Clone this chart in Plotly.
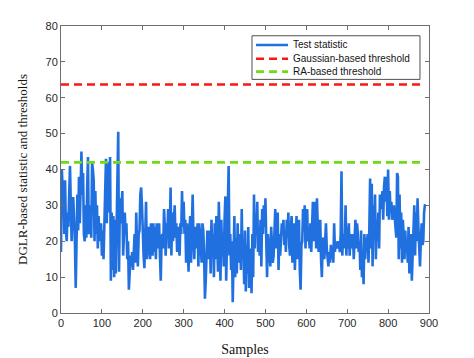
import numpy as np
import plotly.graph_objects as go

test_statistic = [
    17, 40, 35, 37, 22,  37, 23, 20, 28, 24,  33, 41, 30, 20, 32,  32, 26, 20, 7, 30,
    33, 23, 38, 25, 40,  45, 33, 39, 22, 20,  30, 21, 35, 43.5, 22,  26, 30, 21, 42, 40,
    37, 20, 34, 22, 30,  18, 27, 20, 22, 25,  16, 23, 15, 25, 42,  43, 25, 42, 28, 36,
    43.5, 9, 28, 12, 27,  10, 26, 11, 30, 36,  50.5, 11.5, 32, 25, 32,  34, 16, 26, 28, 22,
    25, 15, 20, 6.5, 14,  16, 13, 17, 12, 16,  22, 14, 28, 19, 13,  22, 23, 33, 35, 30,
    20, 16, 12.5, 25, 31,  15, 21, 24, 18, 15,  25, 21, 16, 25, 17,  24, 15, 25, 18, 22,
    25, 16, 9, 21, 22,  18, 29, 24, 16, 25,  21, 29, 18, 22, 35,  16, 28, 20, 24, 30,
    21, 25, 17, 24, 19,  16, 25, 22, 34, 24,  31, 22, 26, 14, 25,  18, 11.5, 23, 27, 14,
    25, 33, 21, 15, 24,  22, 18, 25, 13, 25,  22, 18, 14, 25, 23,  16, 4, 9, 20, 23,
    19, 15, 23, 11, 26,  16, 22, 10, 25, 15,  27, 19, 11.5, 31, 18,  9, 26, 18, 22, 13,
    26, 32.5, 9, 18, 30,  41, 16, 22, 12, 20,  3, 15, 27, 10, 21,  11, 25, 14, 19, 22,
    12, 29, 15, 20, 8,  23, 6, 19, 11, 24,  7, 17, 18, 5.5, 22,  10, 33, 18, 27, 22,
    31, 17, 24, 16, 26,  13, 29, 22, 30, 24,  32, 20, 10, 22, 18,  15, 13, 24, 19, 14,
    16, 21, 29, 18, 24,  28, 12, 22, 16, 20,  25, 22, 26, 19, 22,  17, 26, 21, 28, 19,
    16, 23, 27, 14, 22,  25, 12, 20, 27, 15,  22, 26, 12, 6.5, 19,  20, 29, 23, 30, 18,
    26, 29, 20, 22, 18,  25, 17, 23, 31, 20,  27, 31, 18, 32, 24,  17, 20, 26, 15, 10,
    20, 21, 15, 19, 25,  18, 15, 13, 17, 14,  19, 15, 18, 14, 25,  17, 20, 19, 18, 20,
    19, 17, 22, 39.5, 16,  22, 18, 20, 30, 16,  24, 18, 25, 16, 22,  18, 20, 22, 15, 20,
    26, 18, 25, 22, 17,  20, 12, 23, 10, 16,  8, 22, 15, 21, 19,  22, 14, 23, 37.5, 18,
    36, 13, 30, 22, 33,  15, 26, 20, 28, 18,  33, 30, 29, 34, 26,  35, 38, 31, 38, 27,
    40, 26, 34, 28, 31,  26, 29, 30, 27, 24,  21, 39, 38, 15, 33,  18, 28, 14, 26, 22,
    15, 23, 17, 20, 14,  24, 11, 18, 22, 9,  16, 26, 30, 16, 28,  20, 32, 24, 18, 13,
    20, 25, 19, 20, 28,  30, 30,
]
sample_step = 2
samples = np.arange(len(test_statistic)) * sample_step

gaussian_threshold = 63.7
ra_threshold = 42.0
threshold_span = [0, 890]

series_names = ["Test statistic", "Gaussian-based threshold", "RA-based threshold"]
series_colors = ["rgb(33,112,224)", "rgb(255,20,20)", "rgb(110,220,20)"]
series_dash = ["solid", "8px,5px", "8px,5px"]

x_ticks = list(range(0, 901, 100))
y_ticks = list(range(0, 81, 10))

fig = go.Figure()
fig.add_trace(go.Scatter(
    x=samples, y=test_statistic, mode="lines", name=series_names[0],
    line=dict(color=series_colors[0], width=2.6), showlegend=False,
))
fig.add_trace(go.Scatter(
    x=threshold_span, y=[gaussian_threshold] * 2, mode="lines", name=series_names[1],
    line=dict(color=series_colors[1], width=2.6, dash=series_dash[1]), showlegend=False,
))
fig.add_trace(go.Scatter(
    x=threshold_span, y=[ra_threshold] * 2, mode="lines", name=series_names[2],
    line=dict(color=series_colors[2], width=2.6, dash=series_dash[2]), showlegend=False,
))

# Compact legend box (MATLAB style), drawn in paper coordinates
legend_box = dict(x0=0.519, x1=0.9755, y0=0.814, y1=0.966)
legend_rows = [0.934, 0.886, 0.841]
legend_line_x = (0.530, 0.617)
legend_text_x = 0.626

shapes = [dict(type="rect", xref="paper", yref="paper", **legend_box,
               line=dict(color="rgb(80,80,80)", width=1), fillcolor="white", layer="above")]
annotations = []
for name, color, dash, ry in zip(series_names, series_colors, series_dash, legend_rows):
    shapes.append(dict(type="line", xref="paper", yref="paper",
                       x0=legend_line_x[0], x1=legend_line_x[1], y0=ry, y1=ry,
                       line=dict(color=color, width=2.6, dash=dash), layer="above"))
    annotations.append(dict(xref="paper", yref="paper", x=legend_text_x, y=ry,
                            text=name, showarrow=False, xanchor="left", yanchor="middle",
                            font=dict(family="Liberation Sans, Arial, sans-serif", size=10,
                                      color="rgb(20,20,20)")))

axis_common = dict(
    showline=True, linecolor="rgb(110,110,110)", linewidth=1, mirror="ticks",
    ticks="inside", ticklen=4, tickcolor="rgb(110,110,110)",
    showgrid=False, zeroline=False,
    tickfont=dict(family="Liberation Sans, Arial, sans-serif", size=11, color="rgb(40,40,40)"),
)

fig.update_layout(
    width=474, height=358,
    margin=dict(l=53, r=53, t=18, b=50),
    paper_bgcolor="white", plot_bgcolor="white",
    showlegend=False,
    shapes=shapes, annotations=annotations,
    xaxis=dict(
        range=[0, 900], tickvals=x_ticks,
        title=dict(text="Samples", standoff=15,
                   font=dict(family="Liberation Serif, Times New Roman, serif", size=14, color="rgb(20,20,20)")),
        **axis_common,
    ),
    yaxis=dict(
        range=[0, 80], tickvals=y_ticks,
        title=dict(text="DGLR-based statistic and thresholds", standoff=14,
                   font=dict(family="Liberation Serif, Times New Roman, serif", size=13, color="rgb(20,20,20)")),
        **axis_common,
    ),
)

fig.write_html("out.html")
